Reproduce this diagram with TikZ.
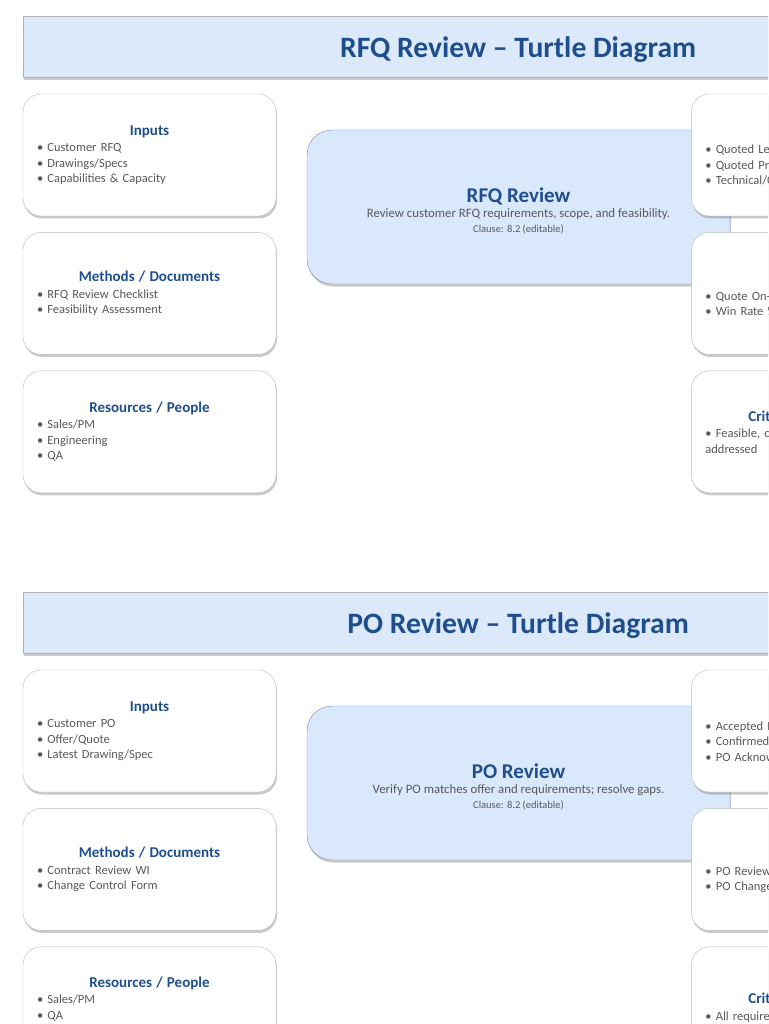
\documentclass[tikz,border=0pt]{standalone}
\usepackage{fontspec}
\setmainfont{Carlito}
\usetikzlibrary{positioning,shadows}
\definecolor{hdrfill}{HTML}{DCE9FB}
\definecolor{boxfill}{HTML}{DAE8FC}
\definecolor{boxline}{HTML}{6C8EBF}
\definecolor{titleblue}{HTML}{1F4E8C}
\definecolor{bodygray}{HTML}{595959}
\newcommand{\ttl}[1]{{\fontsize{15}{18}\selectfont\bfseries\color{titleblue}#1}}
\tikzset{
  soft shadow/.style={drop shadow={shadow xshift=1pt,shadow yshift=-2.5pt,opacity=.35,fill=black!60}},
  header/.style={draw=black!30, fill=hdrfill, soft shadow, anchor=north west,
    minimum width=990pt, minimum height=61pt, inner sep=0pt, text=titleblue,
    text depth=0pt, font=\fontsize{29.6}{32}\selectfont\bfseries},
  card/.style={draw=black!28, fill=white, rounded corners=18pt, soft shadow,
    minimum width=253pt, minimum height=122pt, inner sep=0pt, text width=225pt,
    align=left, text=bodygray, font=\fontsize{12.5}{15.5}\selectfont},
  process/.style={draw=boxline, fill=boxfill, rounded corners=25pt, soft shadow,
    minimum width=423pt, minimum height=154pt, align=center, text=bodygray,
    font=\fontsize{12.8}{14}\selectfont},
  node distance=16pt and 415pt
}
\begin{document}
\begin{tikzpicture}[x=1pt,y=-1pt]
  \useasboundingbox (0,0) rectangle (768,1024);
  \clip (0,0) rectangle (768,1024);

  % RFQ review
  \node[header] (rfqhead) at (23,16) {RFQ Review – Turtle Diagram};
  \node[process] (rfq) at (518.5,207) {\rule{0pt}{22pt}{\fontsize{21}{24}\selectfont\bfseries\color{titleblue}RFQ Review}\\[1.5pt]
    Review customer RFQ requirements, scope, and feasibility.\\[0.5pt]
    {\fontsize{10.5}{12}\selectfont Clause: 8.2 (editable)}};
  \node[card] (rfqin) at (149.5,155) {\hfil\ttl{Inputs}\hfil\\[1pt]
    • Customer RFQ\\ • Drawings/Specs\\ • Capabilities \& Capacity};
  \node[card, below=of rfqin] (rfqmeth) {\hfil\ttl{Methods / Documents}\hfil\\[1.5pt]
    • RFQ Review Checklist\\ • Feasibility Assessment};
  \node[card, below=of rfqmeth] (rfqres) {\hfil\ttl{Resources / People}\hfil\\[1pt]
    • Sales/PM\\ • Engineering\\ • QA};
  \node[card, right=of rfqin] (rfqout) {\ttl{\strut}\\[1pt]
    • Quoted Le\\ • Quoted Pr\\ • Technical/C};
  \node[card, right=of rfqmeth] (rfqkpi) {\ttl{\strut}\\[1.5pt]
    • Quote On-\\ • Win Rate \%};
  \node[card, right=of rfqres] (rfqcrit) {\hspace*{43pt}\ttl{Crit}\\[1pt]
    • Feasible, c\\ addressed};

  % PO review
  \node[header] (pohead) at (23,592) {PO Review – Turtle Diagram};
  \node[process] (po) at (518.5,783) {\rule{0pt}{22pt}{\fontsize{21}{24}\selectfont\bfseries\color{titleblue}PO Review}\\[1.5pt]
    Verify PO matches offer and requirements; resolve gaps.\\[0.5pt]
    {\fontsize{10.5}{12}\selectfont Clause: 8.2 (editable)}};
  \node[card] (poin) at (149.5,731) {\hfil\ttl{Inputs}\hfil\\[1pt]
    • Customer PO\\ • Offer/Quote\\ • Latest Drawing/Spec};
  \node[card, below=of poin] (pometh) {\hfil\ttl{Methods / Documents}\hfil\\[1.5pt]
    • Contract Review WI\\ • Change Control Form};
  \node[card, below=of pometh] (pores) {\hfil\ttl{Resources / People}\hfil\\[1pt]
    • Sales/PM\\ • QA\\ \strut};
  \node[card, right=of poin] (poout) {\ttl{\strut}\\[1pt]
    • Accepted P\\ • Confirmed\\ • PO Acknow};
  \node[card, right=of pometh] (pokpi) {\ttl{\strut}\\[1.5pt]
    • PO Review\\ • PO Change};
  \node[card, right=of pores] (pocrit) {\hspace*{43pt}\ttl{Crit}\\[1pt]
    • All require};
\end{tikzpicture}
\end{document}
